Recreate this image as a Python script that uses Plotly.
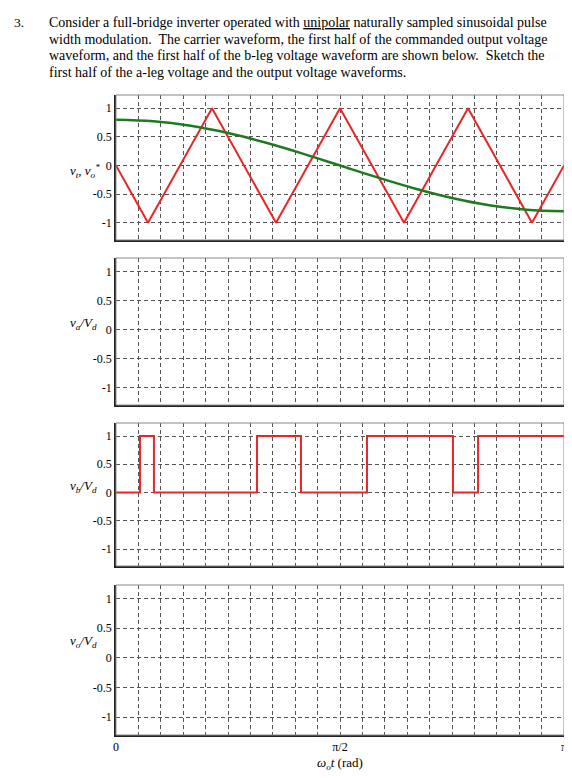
import plotly.graph_objects as go
import math

PI = math.pi
# carrier triangle vertices (t in units of pi) and values
carrier_t = [0, 1/14, 3/14, 5/14, 7/14, 9/14, 11/14, 13/14, 1.0]
carrier_v = [0, -1, 1, -1, 1, -1, 1, -1, 0]
# commanded output voltage v_o* (t in units of pi)
ref_t = [0, 1/12, 2/12, 3/12, 4/12, 5/12, 6/12, 7/12, 8/12, 9/12, 10/12, 11/12, 1.0]
ref_v = [0.8, 0.773, 0.693, 0.566, 0.4, 0.207, 0, -0.207, -0.4, -0.566, -0.693, -0.773, -0.8]
# b-leg switching instants (rad) and levels
vb_switch = [0, 0.168, 0.266, 0.989, 1.297, 1.760, 2.363, 2.539, PI]
vb_level = [0, 1, 0, 1, 0, 1, 0, 1, 1]

ylabels = ["v<sub>t</sub>, v<sub>o</sub><sup>*</sup>", "v<sub>a</sub>/V<sub>d</sub>",
           "v<sub>b</sub>/V<sub>d</sub>", "v<sub>o</sub>/V<sub>d</sub>"]

OFF = 8  # page body margin
W, H = 572 - OFF, 778 - OFF
X0, X1 = 116 - OFF, 564 - OFF
panels = [(95, 240), (258, 405), (423, 566), (585, 735)]
RED = "#e8262a"
FONT = "Times New Roman, Liberation Serif, serif"


def px(y):
    return 1 - (y - OFF) / H


fig = go.Figure()
fig.add_trace(go.Scatter(x=[t * PI for t in carrier_t], y=carrier_v, mode="lines",
                         line=dict(color=RED, width=2), xaxis="x", yaxis="y"))
fig.add_trace(go.Scatter(x=[t * PI for t in ref_t], y=ref_v, mode="lines",
                         line=dict(color="#1f7a1f", width=2.5, shape="spline"), xaxis="x", yaxis="y"))
fig.add_trace(go.Scatter(x=[None], y=[None], mode="lines", xaxis="x2", yaxis="y2"))
fig.add_trace(go.Scatter(x=vb_switch, y=vb_level, mode="lines",
                         line=dict(color=RED, width=2, shape="hv"), xaxis="x3", yaxis="y3"))
fig.add_trace(go.Scatter(x=[None], y=[None], mode="lines", xaxis="x4", yaxis="y4"))

grid_x = [k * PI / 20 for k in range(21)]
layout = dict(width=W, height=H, margin=dict(l=0, r=0, t=0, b=0, autoexpand=False), showlegend=False,
              plot_bgcolor="white", paper_bgcolor="white", font=dict(family=FONT, size=12, color="black"))
anns = []
shapes = []
for i, (top, bot) in enumerate(panels):
    n = "" if i == 0 else str(i + 1)
    last = i == 3
    layout["xaxis" + n] = dict(domain=[X0 / W, X1 / W], range=[0, PI], anchor="y" + n,
                               tickvals=grid_x,
                               ticktext=[("0" if k == 0 else "π/2" if k == 10 else "π" if k == 20 else "") if last else "" for k in range(21)],
                               ticks="", showgrid=True, gridcolor="#555", griddash="4px,3px", gridwidth=1,
                               showline=True, linecolor="#222", linewidth=1.5, mirror=False, zeroline=False,
                               tickfont=dict(family=FONT, size=12))
    layout["yaxis" + n] = dict(domain=[px(bot), px(top)], range=[-1.3, 1.23], anchor="x" + n,
                               tickvals=[-1, -0.5, 0, 0.5, 1], ticktext=["-1", "-0.5", "0", "0.5", "1"],
                               ticks="", showgrid=True, gridcolor="#555", griddash="4px,3px", gridwidth=1,
                               showline=True, linecolor="#222", linewidth=1.5, mirror=False, zeroline=False,
                               tickfont=dict(family=FONT, size=12))
    shapes.append(dict(type="rect", xref="x" + n + " domain", yref="y" + n + " domain",
                       x0=0, x1=1, y0=0, y1=1, line=dict(color="#888", width=1)))
    anns.append(dict(text="<i>" + ylabels[i] + "</i>", x=(68 - OFF) / W, y=px((top + bot) / 2 - 8),
                     xref="paper", yref="paper", showarrow=False, font=dict(family=FONT, size=13)))

anns.append(dict(text="<i>ω<sub>o</sub>t</i> (rad)", x=(340 - OFF) / W, y=px(774), xref="paper", yref="paper",
                 yanchor="bottom", showarrow=False, font=dict(family=FONT, size=13)))
anns.append(dict(text="3.", x=(12 - OFF) / W, y=px(13), xref="paper", yref="paper", xanchor="left",
                 showarrow=False, font=dict(family=FONT, size=13.5)))
lines = ["Consider a full-bridge inverter operated with <span style='text-decoration:underline'>unipolar</span> naturally sampled sinusoidal pulse",
         "width modulation.  The carrier waveform, the first half of the commanded output voltage",
         "waveform, and the first half of the b-leg voltage waveform are shown below.  Sketch the",
         "first half of the a-leg voltage and the output voltage waveforms."]
for j, s in enumerate(lines):
    anns.append(dict(text=s, x=(47 - OFF) / W, y=px(13 + 16.5 * j), xref="paper", yref="paper",
                     xanchor="left", showarrow=False, font=dict(family=FONT, size=14)))
layout["annotations"] = anns
layout["shapes"] = shapes
fig.update_layout(**layout)
fig.write_html("out.html")
